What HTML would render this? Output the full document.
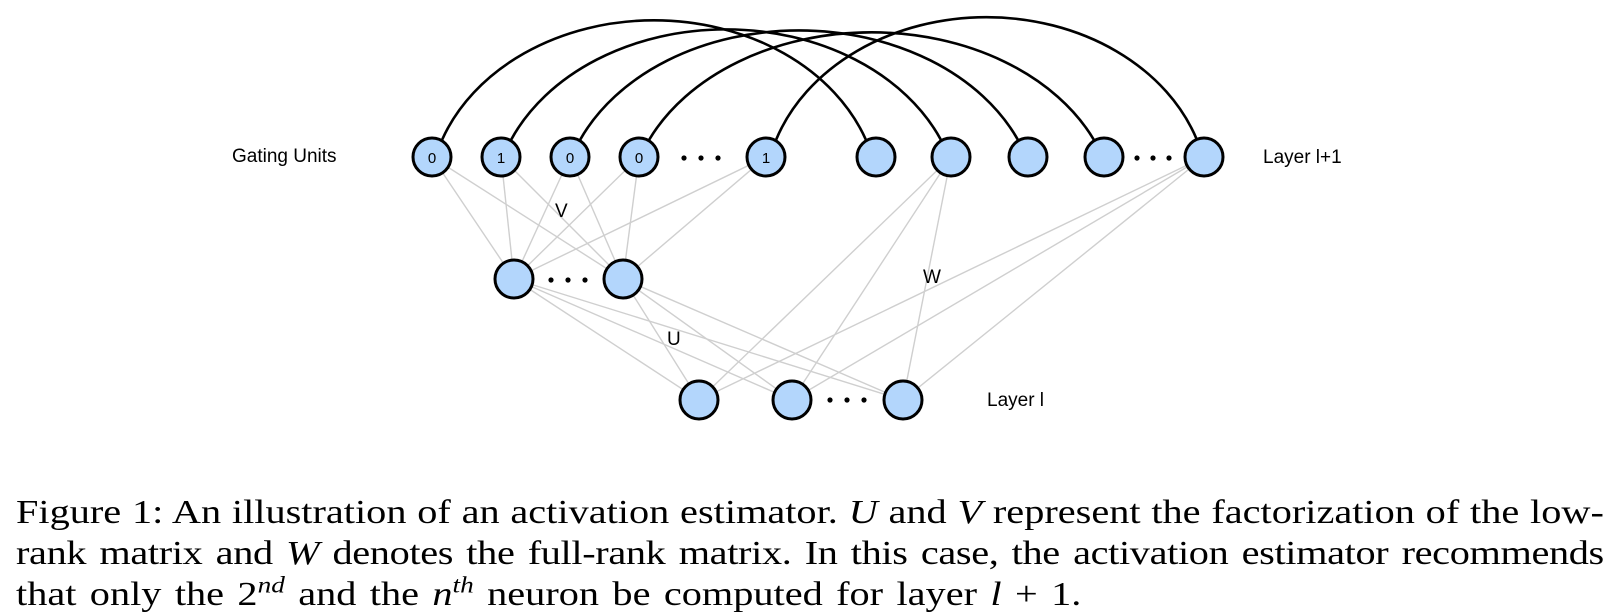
<!DOCTYPE html>
<html><head><meta charset="utf-8"><style>
html,body{margin:0;padding:0;background:#fff;}
body{width:1612px;height:612px;overflow:hidden;position:relative;}
.cap{position:absolute;left:16px;width:1340px;top:492px;font-family:"Liberation Serif",serif;font-size:34px;line-height:41px;color:#000;transform:scaleX(1.185);transform-origin:0 0;}
.cap div{text-align:justify;text-align-last:justify;white-space:nowrap;}
.cap div.l2{letter-spacing:-0.3px;}
.cap div.last{text-align:left;text-align-last:left;word-spacing:2.8px;}
.cap i{font-style:italic;}
.cap sup{font-size:23px;line-height:0;}
</style></head><body>
<svg width="1612" height="470" style="position:absolute;left:0;top:0" font-family="Liberation Sans, sans-serif">
<g stroke="#cfcfcf" stroke-width="1.4">
<line x1="432" y1="157" x2="514" y2="279"/><line x1="432" y1="157" x2="623" y2="279"/>
<line x1="501" y1="157" x2="514" y2="279"/><line x1="501" y1="157" x2="623" y2="279"/>
<line x1="570" y1="157" x2="514" y2="279"/><line x1="570" y1="157" x2="623" y2="279"/>
<line x1="639" y1="157" x2="514" y2="279"/><line x1="639" y1="157" x2="623" y2="279"/>
<line x1="766" y1="157" x2="514" y2="279"/><line x1="766" y1="157" x2="623" y2="279"/>
<line x1="514" y1="279" x2="699" y2="400"/><line x1="514" y1="279" x2="792" y2="400"/><line x1="514" y1="279" x2="903" y2="400"/>
<line x1="623" y1="279" x2="699" y2="400"/><line x1="623" y1="279" x2="792" y2="400"/><line x1="623" y1="279" x2="903" y2="400"/>
<line x1="951" y1="157" x2="699" y2="400"/><line x1="951" y1="157" x2="792" y2="400"/><line x1="951" y1="157" x2="903" y2="400"/>
<line x1="1204" y1="157" x2="699" y2="400"/><line x1="1204" y1="157" x2="792" y2="400"/><line x1="1204" y1="157" x2="903" y2="400"/>
</g>
<g fill="none" stroke="#000" stroke-width="2.6">
<path d="M442 140 A225 180 0 0 1 866 140"/>
<path d="M511 140 A233 180 0 0 1 941 140"/>
<path d="M580 140 A238 180 0 0 1 1018 140"/>
<path d="M649 140 A243 180 0 0 1 1094 140"/>
<path d="M776 140 A222 180 0 0 1 1197 140"/>
</g>
<g fill="#b3d6fc" stroke="#000" stroke-width="3">
<circle cx="432" cy="157" r="19"/><circle cx="501" cy="157" r="19"/><circle cx="570" cy="157" r="19"/><circle cx="639" cy="157" r="19"/><circle cx="766" cy="157" r="19"/>
<circle cx="876" cy="157" r="19"/><circle cx="951" cy="157" r="19"/><circle cx="1028" cy="157" r="19"/><circle cx="1104" cy="157" r="19"/><circle cx="1204" cy="157" r="19"/>
<circle cx="514" cy="279" r="19"/><circle cx="623" cy="279" r="19"/>
<circle cx="699" cy="400" r="19"/><circle cx="792" cy="400" r="19"/><circle cx="903" cy="400" r="19"/>
</g>
<g fill="#000">
<circle cx="684" cy="158" r="2.6"/><circle cx="701" cy="158" r="2.6"/><circle cx="718" cy="158" r="2.6"/>
<circle cx="1137" cy="158" r="2.6"/><circle cx="1153" cy="158" r="2.6"/><circle cx="1169" cy="158" r="2.6"/>
<circle cx="551" cy="280" r="2.6"/><circle cx="568" cy="280" r="2.6"/><circle cx="585" cy="280" r="2.6"/>
<circle cx="830" cy="400" r="2.6"/><circle cx="847" cy="400" r="2.6"/><circle cx="864" cy="400" r="2.6"/>
</g>
<g font-size="15" text-anchor="middle" fill="#000">
<text x="432" y="163">0</text><text x="501" y="163">1</text><text x="570" y="163">0</text><text x="639" y="163">0</text><text x="766" y="163">1</text>
</g>
<g font-size="19" fill="#000">
<text x="232" y="162">Gating Units</text>
<text x="1263" y="163">Layer l+1</text>
<text x="987" y="406">Layer l</text>
<text x="555" y="217">V</text>
<text x="923" y="283">W</text>
<text x="667" y="345">U</text>
</g>
</svg>
<div class="cap">
<div>Figure 1: An illustration of an activation estimator. <i>U</i> and <i>V</i> represent the factorization of the low-</div>
<div class="l2">rank matrix and <i>W</i> denotes the full-rank matrix. In this case, the activation estimator recommends</div>
<div class="last">that only the 2<sup><i>nd</i></sup> and the <i>n</i><sup><i>th</i></sup> neuron be computed for layer <i>l</i> + 1.</div>
</div>
</body></html>
